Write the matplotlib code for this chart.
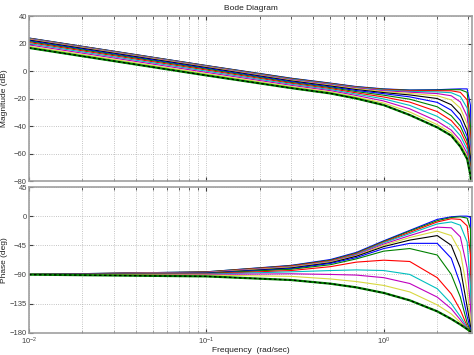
import numpy as np
import matplotlib
matplotlib.use("Agg")
import matplotlib.pyplot as plt
from matplotlib.ticker import LogLocator, FixedLocator

plt.rcParams['font.family'] = ['Liberation Sans', 'DejaVu Sans']
plt.rcParams['mathtext.fontset'] = 'custom'
plt.rcParams['mathtext.rm'] = 'Liberation Sans'
plt.rcParams['mathtext.it'] = 'Liberation Sans'

# frequency points (rad/sec)
freq = [0.01, 0.1, 0.3, 0.5, 0.7, 1.0, 1.4, 2.0, 2.4, 2.7, 2.95, 3.08, 3.14]

# magnitude (dB), curves listed from top to bottom
mag_db = [
    [24.0, 4.0, -5.2, -8.8, -11.3, -13.0, -13.8, -13.6, -13.2, -13.0, -13.0, -25, -90],
    [23.9, 3.9, -5.4, -9.0, -11.5, -13.2, -14.0, -13.9, -13.6, -13.6, -15.5, -40, -90],
    [23.7, 3.7, -5.7, -9.2, -11.7, -13.5, -14.3, -14.4, -14.4, -15.5, -21, -48, -90],
    [23.5, 3.5, -6.0, -9.5, -12.0, -13.9, -14.8, -15.2, -15.8, -18.5, -27, -53, -90],
    [23.2, 3.2, -6.4, -9.9, -12.4, -14.4, -15.4, -16.4, -18.0, -22.5, -33, -57, -90],
    [22.9, 2.9, -6.8, -10.4, -12.9, -15.0, -16.3, -18.0, -21.0, -27, -38.5, -60, -90],
    [22.5, 2.5, -7.2, -10.9, -13.5, -15.7, -17.4, -20.0, -24.5, -31.5, -43, -63, -90],
    [22.0, 2.0, -7.7, -11.5, -14.2, -16.5, -18.8, -22.8, -28.5, -36, -47.5, -66, -90],
    [21.4, 1.4, -8.3, -12.1, -15.0, -17.6, -20.5, -26.0, -32.5, -40, -51, -68, -90],
    [20.7, 0.7, -8.9, -12.8, -15.9, -18.9, -22.6, -29.5, -36.0, -43.5, -54, -70, -90],
    [19.9, -0.1, -9.6, -13.5, -16.8, -20.3, -25.0, -33.0, -39.5, -47, -57, -72, -90],
    [19.0, -1.0, -10.4, -14.3, -17.8, -21.8, -27.5, -36.5, -43, -50.5, -60, -74, -90],
    [18.0, -2.0, -11.3, -15.2, -18.9, -23.3, -29.8, -39.0, -45, -53, -62, -75, -90],
    [16.8, -3.2, -12.4, -16.3, -20.0, -24.8, -32.0, -41.0, -47, -55, -64, -76, -90],
]

# phase (deg), same curve order
phase_deg = [
    [-90, -86, -76, -67, -56, -38, -22, -5, -1, 0, 0, -2, -180],
    [-90, -86, -76.5, -68, -57, -39, -23, -7, -2, -1, -3, -20, -180],
    [-90, -86.5, -77, -69, -58, -40, -25, -9, -4, -5, -15, -60, -180],
    [-90, -87, -78, -70, -59, -41, -27, -12, -9, -14, -40, -110, -180],
    [-90, -87, -78.5, -70.5, -60, -43, -30, -17, -18, -32, -80, -140, -180],
    [-90, -87.5, -79, -71, -61, -45, -33, -23, -30, -55, -115, -160, -180],
    [-90, -88, -80, -72, -62, -47, -37, -30, -45, -80, -140, -170, -180],
    [-90, -88, -81, -73, -64, -50, -42, -42, -65, -105, -155, -175, -180],
    [-90, -88.5, -82, -75, -66, -54, -50, -60, -90, -125, -165, -177, -180],
    [-90, -89, -84, -78, -71, -68, -70, -95, -120, -145, -170, -178, -180],
    [-90, -89.5, -86, -84, -83, -84, -90, -112, -135, -155, -172, -179, -180],
    [-90, -90, -89, -90, -91, -95, -104, -125, -143, -160, -174, -179, -180],
    [-90, -91, -93, -97, -101, -107, -117, -137, -151, -164, -175, -179.5, -180],
    [-90.3, -93, -98.6, -104.3, -110, -118.6, -130, -147, -158.8, -167.4, -174.5, -178.3, -180],
]

colors = ['#0000ff', '#008000', '#ff0000', '#00bfbf', '#bf00bf', '#d8d840', '#000000']

fig = plt.figure(figsize=(4.74, 3.55), dpi=100)
ax1 = fig.add_axes([0.0612, 0.4901, 0.9346, 0.4648])
ax2 = fig.add_axes([0.0612, 0.0628, 0.9346, 0.4104])

n = len(mag_db)
for i in range(n):
    c = colors[i % len(colors)]
    if i == n - 1:
        ax1.plot(freq, mag_db[i], color='#008000', lw=1.6)
        ax2.plot(freq, phase_deg[i], color='#008000', lw=1.6)
        ax1.plot(freq, mag_db[i], color='k', lw=0.9, ls=(0, (2, 2)))
        ax2.plot(freq, phase_deg[i], color='k', lw=0.9, ls=(0, (2, 2)))
    else:
        ax1.plot(freq, mag_db[i], color=c, lw=0.8)
        ax2.plot(freq, phase_deg[i], color=c, lw=0.8)

tick_col = '#404040'
for ax in (ax1, ax2):
    ax.set_xscale('log')
    ax.set_xlim(0.01, np.pi)
    ax.xaxis.set_major_locator(LogLocator(base=10))
    ax.xaxis.set_minor_locator(LogLocator(base=10, subs=np.arange(2, 10)))
    ax.grid(True, which='major', ls=':', color='#b0b0b0', lw=0.6)
    ax.grid(True, which='minor', axis='x', ls=':', color='#b0b0b0', lw=0.6)
    ax.tick_params(direction='in', which='both', labelsize=5.5, colors=tick_col,
                   length=3, top=True, right=True, pad=1.5)
    ax.tick_params(which='minor', length=1.8)
    for sp in ax.spines.values():
        sp.set_color('#a0a0a0')
        sp.set_linewidth(1.2)

ax1.set_ylim(-80, 40)
ax1.yaxis.set_major_locator(FixedLocator([-80, -60, -40, -20, 0, 20, 40]))
ax1.tick_params(labelbottom=False)
ax1.set_ylabel('Magnitude (dB)', fontsize=6, color='#202020')
ax1.yaxis.set_label_coords(-0.048, 0.5)
ax1.set_title('Bode Diagram', fontsize=6, pad=4, color='#202020')

ax2.set_ylim(-180, 45)
ax2.yaxis.set_major_locator(FixedLocator([-180, -135, -90, -45, 0, 45]))
ax2.tick_params(axis='x', pad=2.5)
ax2.set_ylabel('Phase (deg)', fontsize=6, color='#202020')
ax2.yaxis.set_label_coords(-0.048, 0.5)
ax2.set_xlabel('Frequency  (rad/sec)', fontsize=6, color='#202020', labelpad=0)

fig.savefig('out.png', dpi=100)
